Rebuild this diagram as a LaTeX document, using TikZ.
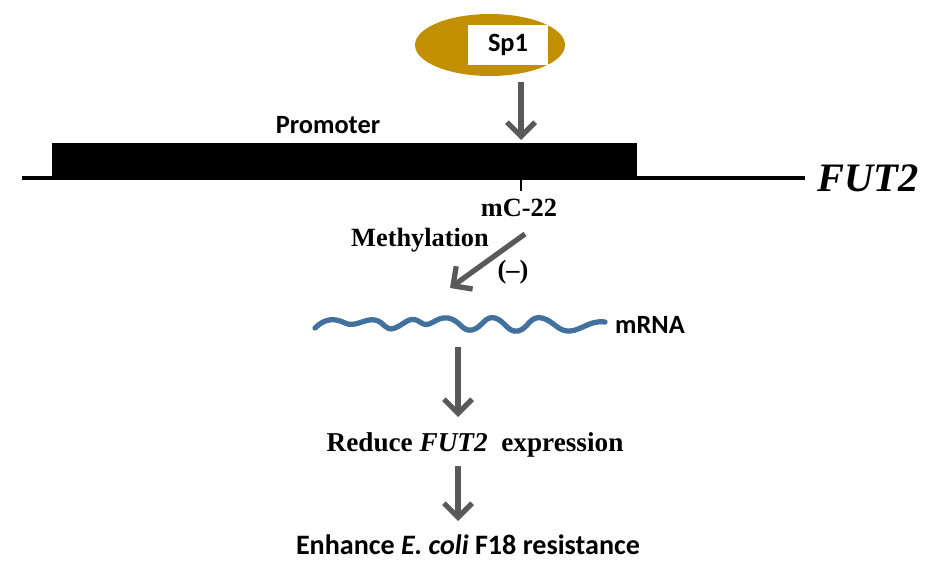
\documentclass[tikz,border=0pt]{standalone}
\usepackage{fontspec}
\setmainfont{Liberation Serif}
\newfontfamily\carl{Carlito}
\usetikzlibrary{arrows.meta}
\definecolor{gold}{HTML}{C09000}
\definecolor{ar}{HTML}{595959}
\definecolor{rna}{HTML}{41719C}
\begin{document}
\begin{tikzpicture}[x=0.02cm,y=-0.02cm,
  ar2/.style={ar,line width=3pt,-{Straight Barb[length=8pt,width=16pt,line width=3pt]}},
  ss/.style={font=\carl\bfseries\fontsize{15}{18}\selectfont},
  sf/.style={font=\bfseries\fontsize{15}{18}\selectfont}]
\useasboundingbox (0,0) rectangle (935,584);
\fill[gold] (490,45) ellipse [x radius=75,y radius=31];
\node[fill=white,minimum width=1.6cm,minimum height=0.8cm,ss] (sp1) at (508,45) {Sp1};
\coordinate (a1) at (521,82); \coordinate (a2) at (521,140);
\draw[ar2] (a1) -- (a2);
\node[ss] (pr) at (328,125) {Promoter};
\fill[black] (52,143) rectangle (637,178);
\draw[line width=2.5pt] (22,178) -- (805,178);
\node[font=\bfseries\itshape\fontsize{23}{27}\selectfont] (fut) at (868,178) {FUT2};
\draw[line width=1.5pt] (521,178) -- (521,191);
\node[sf] (mc) at (519,208) {mC-22};
\node[sf] (me) at (420,240) {Methylation};
\coordinate (b1) at (525,234); \coordinate (b2) at (450,288);
\draw[ar2] (b1) -- (b2);
\node[sf] (neg) at (513,272) {(–)};
\draw[rna,line width=3pt,line cap=round] (315,328)
  .. controls (325,318) and (335,318) .. (345,323)
  .. controls (355,328) and (365,318) .. (375,320)
  .. controls (385,322) and (385,332) .. (395,328)
  .. controls (405,324) and (410,315) .. (420,322)
  .. controls (430,330) and (435,316) .. (448,318)
  .. controls (460,320) and (462,332) .. (472,330)
  .. controls (482,328) and (485,315) .. (495,318)
  .. controls (505,321) and (508,333) .. (518,331)
  .. controls (528,329) and (530,315) .. (542,318)
  .. controls (554,321) and (558,332) .. (570,331)
  .. controls (582,330) and (590,320) .. (605,322);
\node[ss] (mr) at (650,325) {mRNA};
\coordinate (c1) at (458,347); \coordinate (c2) at (458,417);
\draw[ar2] (c1) -- (c2);
\node[font=\bfseries\fontsize{15.5}{19}\selectfont] (red) at (475,445) {Reduce \textit{FUT2}\ \ expression};
\coordinate (d1) at (458,466); \coordinate (d2) at (458,521);
\draw[ar2] (d1) -- (d2);
\node[font=\carl\bfseries\fontsize{16}{19}\selectfont] (en) at (468,545) {Enhance \textit{E. coli} F18 resistance};
\end{tikzpicture}
\end{document}
